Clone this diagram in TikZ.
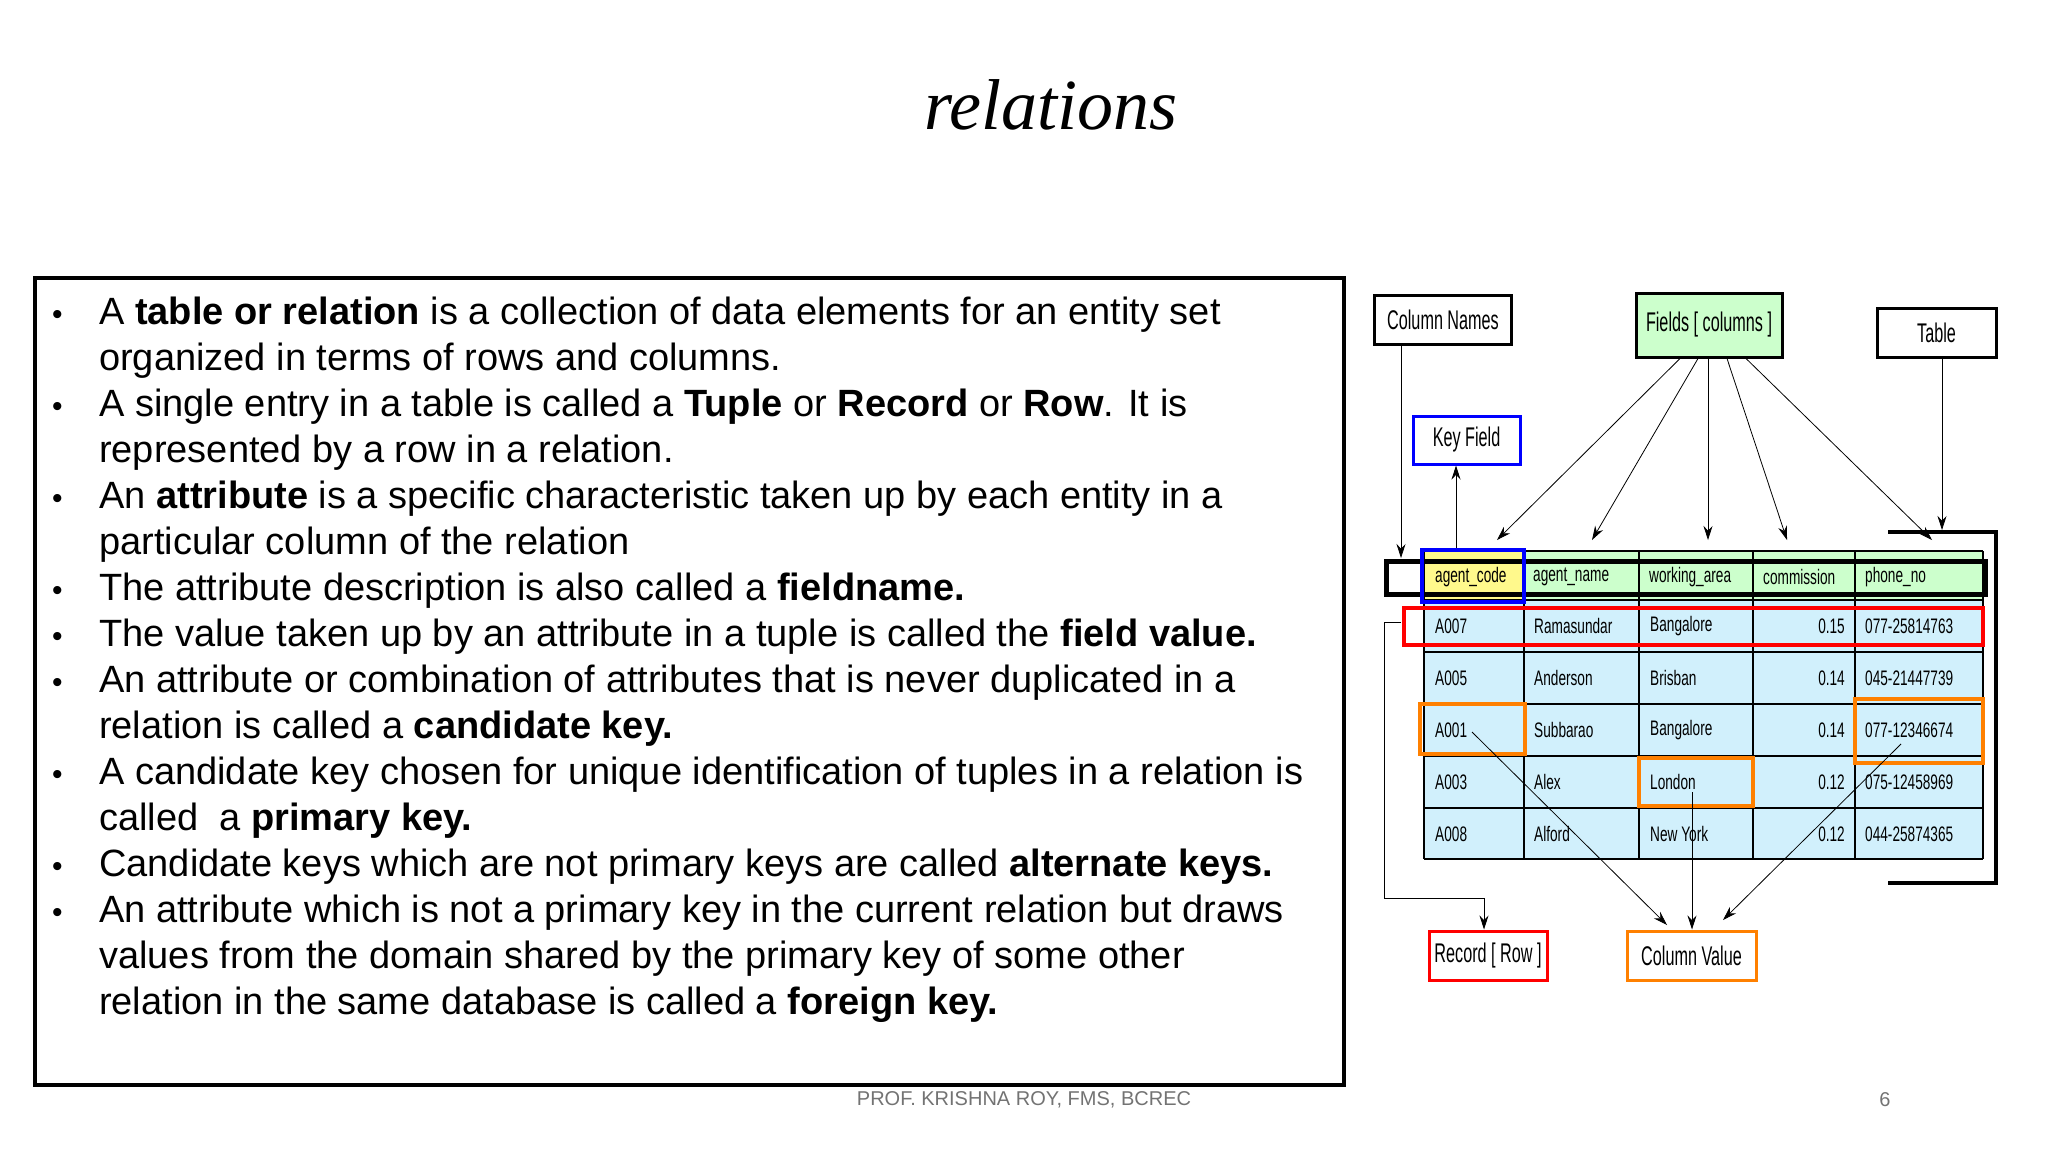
\documentclass[tikz,border=0pt]{standalone}
\usepackage{fontspec}
\setmainfont{Liberation Sans}
\newfontfamily\narrow[FakeStretch=0.65]{Liberation Sans}
\newfontfamily\narrowlab[FakeStretch=0.6]{Liberation Sans}
\newfontfamily\titlefont{Liberation Serif}
\usetikzlibrary{arrows.meta}
\begin{document}
\begin{tikzpicture}[x=1pt,y=-1pt,
  bl/.style={anchor=base west,inner sep=0pt,font=\fontsize{38}{44}\selectfont},
  bu/.style={anchor=base west,inner sep=0pt,font=\fontsize{30}{36}\selectfont},
  lab/.style={draw,line width=3pt,font=\narrowlab\fontsize{27}{30}\selectfont,inner sep=0pt},
  cell/.style={anchor=west,inner sep=0pt,font=\narrow\fontsize{21}{24}\selectfont},
  arr/.style={-{Stealth[length=14pt,width=9pt]},line width=0.8pt}]
\useasboundingbox (0,0) rectangle (2048,1152);
\fill[white] (0,0) rectangle (2048,1152);
\node[font=\titlefont\itshape\fontsize{72}{80}\selectfont] (title) at (1051,105) {relations};
% left box
\draw[line width=4pt] (35,278) rectangle (1344,1085);
\foreach \n/\l in {1/1,2/3,3/5,4/7,5/8,6/9,7/11,8/13,9/14}
  \node[bu] (b\n) at (52,{324+(\l-1)*46}) {•};
\node[bl] (l1) at (99,324) {A \textbf{table or relation} is a collection of data elements for an entity set};
\node[bl] (l2) at (99,370) {organized in terms of rows and columns.};
\node[bl] (l3) at (99,416) {A single entry in a table is called a \textbf{Tuple} or \textbf{Record} or \textbf{Row}. It is};
\node[bl] (l4) at (99,462) {represented by a row in a relation.};
\node[bl] (l5) at (99,508) {An \textbf{attribute} is a specific characteristic taken up by each entity in a};
\node[bl] (l6) at (99,554) {particular column of the relation};
\node[bl] (l7) at (99,600) {The attribute description is also called a \textbf{fieldname.}};
\node[bl] (l8) at (99,646) {The value taken up by an attribute in a tuple is called the \textbf{field value.}};
\node[bl] (l9) at (99,692) {An attribute or combination of attributes that is never duplicated in a};
\node[bl] (l10) at (99,738) {relation is called a \textbf{candidate key.}};
\node[bl] (l11) at (99,784) {A candidate key chosen for unique identification of tuples in a relation is};
\node[bl] (l12) at (99,830) {called\ \ a \textbf{primary key.}};
\node[bl] (l13) at (99,876) {Candidate keys which are not primary keys are called \textbf{alternate keys.}};
\node[bl] (l14) at (99,922) {An attribute which is not a primary key in the current relation but draws};
\node[bl] (l15) at (99,968) {values from the domain shared by the primary key of some other};
\node[bl] (l16) at (99,1014) {relation in the same database is called a \textbf{foreign key.}};
\node[text=black!55,font=\fontsize{20}{24}\selectfont] (foot) at (1024,1100) {PROF. KRISHNA ROY, FMS, BCREC};
\node[text=black!55,font=\fontsize{20}{24}\selectfont] (pg) at (1885,1100) {6};
% table
\fill[green!20] (1424,551) rectangle (1983,600);
\fill[yellow!45] (1424,551) rectangle (1524,600);
\fill[cyan!18] (1424,600) rectangle (1983,859);
\foreach \y in {551,600,652,704,756,808,859} \draw[line width=1.2pt] (1424,\y) -- (1983,\y);
\foreach \x in {1424,1524,1639,1753,1855,1983} \draw[line width=1.2pt] (\x,551) -- (\x,859);
\draw[line width=5pt] (1386,561) rectangle (1985,594);
\node[cell] (h1) at (1435,577) {agent\_code};
\node[cell] (h2) at (1533,577) {agent\_name};
\node[cell] (h3) at (1649,577) {working\_area};
\node[cell] (h4) at (1763,577) {commission};
\node[cell] (h5) at (1865,577) {phone\_no};
\foreach \r/\a/\b/\c/\d/\e in {1/A007/Ramasundar/Bangalore/0.15/077-25814763,2/A005/Anderson/Brisban/0.14/045-21447739,3/A001/Subbarao/Bangalore/0.14/077-12346674,4/A003/Alex/London/0.12/075-12458969,5/A008/Alford/New York/0.12/044-25874365}{
  \node[cell] (c\r a) at (1435,{626+(\r-1)*52}) {\a};
  \node[cell] (c\r b) at (1534,{626+(\r-1)*52}) {\b};
  \node[cell] (c\r c) at (1650,{626+(\r-1)*52}) {\c};
  \node[cell,anchor=east] (c\r d) at (1845,{626+(\r-1)*52}) {\d};
  \node[cell] (c\r e) at (1865,{626+(\r-1)*52}) {\e};
}
\draw[blue,line width=3.5pt] (1422,550) rectangle (1524,602);
\draw[red,line width=3.5pt] (1404,608) rectangle (1983,645);
\draw[orange,line width=3.5pt] (1420,704) rectangle (1525,754);
\draw[orange,line width=3.5pt] (1639,758) rectangle (1753,806);
\draw[orange,line width=3.5pt] (1855,699) rectangle (1983,763);
\draw[line width=4.5pt] (1888,532) -- (1996,532) -- (1996,883) -- (1888,883);
% labels
\node[lab,minimum width=137pt,minimum height=49pt] (cn) at (1443,319.5) {Column Names};
\node[lab,fill=green!20,minimum width=146pt,minimum height=64pt] (fc) at (1709,325) {Fields [ columns ]};
\node[lab,minimum width=119pt,minimum height=49pt] (tb) at (1936.5,332.5) {Table};
\node[lab,draw=blue,minimum width=107pt,minimum height=48pt] (kf) at (1466.5,440) {Key Field};
\node[lab,draw=red,minimum width=118pt,minimum height=49pt] (rr) at (1488,955.5) {Record [ Row ]};
\node[lab,draw=orange,minimum width=129pt,minimum height=49pt] (cv) at (1691.5,955.5) {Column Value};
\coordinate (t1) at (1401,558);
\coordinate (k1) at (1456,548);
\coordinate (r0) at (1401,622);
\coordinate (a1) at (1472,732); \coordinate (a2) at (1692,792); \coordinate (a3) at (1901,744);
% connectors
\draw[arr] (cn.south -| t1) -- (t1);
\draw[arr] (k1) -- (kf.south -| k1);
\draw[arr] ([xshift=-29pt]fc.south) -- (1497,540);
\draw[arr] ([xshift=-11pt]fc.south) -- (1592,540);
\draw[arr] ([xshift=-1pt]fc.south) -- (1708,540);
\draw[arr] ([xshift=18pt]fc.south) -- (1787,540);
\draw[arr] ([xshift=37pt]fc.south) -- (1932,540);
\draw[arr] (tb.south -| 1942,0) -- (1942,530);
\draw[arr] (r0) -- (1384,622) -- (1384,898) -- (1484,898) -- (rr.north -| 1484,0);
\draw[arr] (a1) -- (1667,925);
\draw[arr] (a2) -- (cv.north -| a2);
\draw[arr] (a3) -- (1723,920);
\end{tikzpicture}
\end{document}
